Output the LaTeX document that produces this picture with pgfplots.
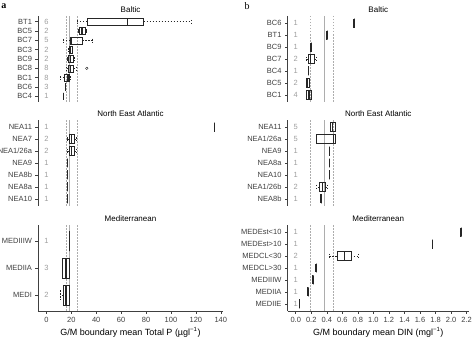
\documentclass[border=0pt]{standalone}
\usepackage{fontspec}
\setmainfont{Liberation Sans}
\newfontfamily\seriffam{Liberation Serif}
\usepackage{pgfplots}
\pgfplotsset{compat=1.18}
\usepgfplotslibrary{statistics}
\definecolor{axgray}{gray}{0.25}
\definecolor{cntgray}{gray}{0.62}
\definecolor{refgray}{gray}{0.68}

\pgfplotsset{
  every axis title/.style={at={(0.5,1)}, anchor=base, yshift=3.8pt},
  panel/.style={
    scale only axis, height=86pt,
    y dir=reverse, ymin=0.4,
    axis lines*=left,
    tick align=outside, major tick length=2.5pt,
    tick style={axgray, line width=0.5pt},
    axis line style={axgray, line width=0.6pt},
    tick label style={font=\fontsize{7.5}{8}\selectfont, text=axgray},
    /pgf/number format/assume math mode=true,
    title style={font=\fontsize{8}{9}\selectfont},
    boxplot/draw direction=x,
    boxplot/box extend=0.75,
    boxplot/whisker extend=0.35,
    clip=false,
  },
  toppanel/.style={x axis line style={draw=none}, xtick=\empty},
  bottompanel/.style={
    xlabel style={font=\fontsize{9}{10}\selectfont, text=black, yshift=2pt}},
  pa/.style={width=185pt, xmin=-6.75, xmax=141.75, xtick={0,20,40,60,80,100,120,140}},
  pb/.style={width=181.5pt, xmin=-0.106, xmax=2.231,
    xtick={0,0.2,0.4,0.6,0.8,1.0,1.2,1.4,1.6,1.8,2.0,2.2},
    xticklabel style={/pgf/number format/.cd, fixed, fixed zerofill, precision=1}},
}

\newcommand{\bx}[6]{\addplot[draw=black!85, line width=0.5pt,
  boxplot prepared={draw position=#1, lower whisker=#2, lower quartile=#3, median=#4, upper quartile=#5, upper whisker=#6},
  boxplot/every whisker/.style={dash pattern=on 1.5pt off 1.5pt},
  boxplot/every median/.style={line width=1.2pt}] coordinates {};}
\newcommand{\one}[2]{\bx{#1}{#2}{#2}{#2}{#2}{#2}}
\newcommand{\reflines}[4]{%
  \addplot[refgray, dash pattern=on 1.5pt off 1.5pt, line width=0.6pt] coordinates {(#1,0.4) (#1,#4)};
  \addplot[refgray, line width=0.6pt] coordinates {(#2,0.4) (#2,#4)};
  \addplot[refgray, dash pattern=on 1.5pt off 1.5pt, line width=0.6pt] coordinates {(#3,0.4) (#3,#4)};}
\pgfplotsset{counts/.style={draw=none, mark=none, nodes near coords, point meta=explicit symbolic,
  nodes near coords style={anchor=center, text=cntgray, font=\fontsize{7.5}{8}\selectfont}}}

\begin{document}
\begin{tikzpicture}
\useasboundingbox (0,0) rectangle (474pt,338pt);
\node[font=\seriffam\bfseries\fontsize{10}{10}\selectfont] at (4pt,332pt) {a};
\node[font=\seriffam\fontsize{10}{10}\selectfont] at (247pt,332pt) {b};

% ---------------- a: Baltic
\begin{axis}[panel, pa, toppanel, at={(38pt,236pt)}, anchor=south west, title=Baltic, ymax=9.6,
  ytick={1,2,3,4,5,6,7,8,9}, yticklabels={BT1,BC5,BC7,BC3,BC9,BC8,BC1,BC6,BC4}]
\reflines{16}{18.7}{24.5}{9.6}
\bx{1}{24.9}{32.6}{65}{78}{116}
\bx{2}{25.5}{26.3}{28.6}{31.5}{32.2}
\bx{3}{13.4}{19.3}{19.8}{28.6}{37}
\bx{4}{17.9}{18.2}{19.5}{20.8}{21.1}
\bx{5}{16.8}{17.8}{19.5}{21.6}{22.4}
\bx{6}{15.8}{17.4}{19.5}{21.9}{23.8}
\addplot[only marks, mark=o, mark size=1.3pt, black!85] coordinates {(32.4,6)};
\bx{7}{11.2}{14.2}{17.4}{18.7}{18.9}
\bx{8}{15}{15.1}{15.2}{15.3}{15.4}
\one{9}{13.9}
\addplot[counts] table[x=x, y=y, meta=n, row sep=\\] {x y n\\ 0 1 6\\ 0 2 2\\ 0 3 5\\ 0 4 2\\ 0 5 2\\ 0 6 8\\ 0 7 8\\ 0 8 3\\ 0 9 1\\};
\end{axis}

% ---------------- a: NEA
\begin{axis}[panel, pa, toppanel, at={(38pt,132pt)}, anchor=south west, title=North East Atlantic, ymax=7.6,
  ytick={1,2,3,4,5,6,7}, yticklabels={NEA11,NEA7,NEA1/26a,NEA9,NEA8b,NEA8a,NEA10}]
\reflines{16}{18.7}{24.5}{7.6}
\one{1}{135}
\bx{2}{16.5}{18}{20.3}{22.5}{24}
\bx{3}{16.5}{18}{20.3}{22.5}{24}
\one{4}{16.8}
\one{5}{16.8}
\one{6}{16.8}
\one{7}{16.8}
\addplot[counts] table[x=x, y=y, meta=n, row sep=\\] {x y n\\ 0 1 1\\ 0 2 2\\ 0 3 2\\ 0 4 1\\ 0 5 1\\ 0 6 1\\ 0 7 1\\};
\end{axis}

% ---------------- a: Mediterranean
\begin{axis}[panel, pa, bottompanel, at={(38pt,27pt)}, anchor=south west, title=Mediterranean, ymax=3.6,
  ytick={1,2,3}, yticklabels={MEDIIIW,MEDIIA,MEDI},
  xlabel={G/M boundary mean Total P (µgl\textsuperscript{−1})}]
\reflines{16}{18.7}{24.5}{3.6}
\one{1}{18.7}
\bx{2}{12.6}{12.8}{15.8}{18.5}{18.7}
\bx{3}{11.2}{13.4}{15.8}{18.5}{18.7}
\addplot[counts] table[x=x, y=y, meta=n, row sep=\\] {x y n\\ 0 1 1\\ 0 2 3\\ 0 3 2\\};
\end{axis}

% ---------------- b: Baltic
\begin{axis}[panel, pb, toppanel, at={(287.5pt,236pt)}, anchor=south west, title=Baltic, ymax=7.6,
  ytick={1,2,3,4,5,6,7}, yticklabels={BC6,BT1,BC9,BC7,BC4,BC5,BC1}]
\reflines{0.19}{0.37}{0.485}{7.6}
\one{1}{0.75}
\one{2}{0.40}
\one{3}{0.197}
\bx{4}{0.13}{0.155}{0.19}{0.24}{0.26}
\one{5}{0.163}
\bx{6}{0.137}{0.137}{0.15}{0.17}{0.17}
\bx{7}{0.137}{0.137}{0.17}{0.206}{0.206}
\addplot[counts] table[x=x, y=y, meta=n, row sep=\\] {x y n\\ 0 1 1\\ 0 2 1\\ 0 3 1\\ 0 4 2\\ 0 5 1\\ 0 6 2\\ 0 7 4\\};
\end{axis}

% ---------------- b: NEA
\begin{axis}[panel, pb, toppanel, at={(287.5pt,132pt)}, anchor=south west, title=North East Atlantic, ymax=7.6,
  ytick={1,2,3,4,5,6,7}, yticklabels={NEA11,NEA1/26a,NEA9,NEA8a,NEA10,NEA1/26b,NEA8b}]
\reflines{0.19}{0.37}{0.485}{7.6}
\bx{1}{0.44}{0.44}{0.47}{0.506}{0.506}
\bx{2}{0.266}{0.266}{0.49}{0.506}{0.506}
\one{3}{0.433}
\one{4}{0.433}
\one{5}{0.433}
\bx{6}{0.27}{0.305}{0.34}{0.378}{0.41}
\one{7}{0.326}
\addplot[counts] table[x=x, y=y, meta=n, row sep=\\] {x y n\\ 0 1 5\\ 0 2 5\\ 0 3 1\\ 0 4 1\\ 0 5 1\\ 0 6 2\\ 0 7 1\\};
\end{axis}

% ---------------- b: Mediterranean
\begin{axis}[panel, pb, bottompanel, at={(287.5pt,27pt)}, anchor=south west, title=Mediterranean, ymax=7.6,
  ytick={1,2,3,4,5,6,7}, yticklabels={MEDEst<10,MEDEst>10,MEDCL<30,MEDCL>30,MEDIIIW,MEDIIA,MEDIIE},
  xlabel={G/M boundary mean DIN (mgl\textsuperscript{−1})}]
\reflines{0.19}{0.37}{0.485}{7.6}
\one{1}{2.125}
\one{2}{1.76}
\bx{3}{0.43}{0.53}{0.63}{0.71}{0.80}
\one{4}{0.26}
\one{5}{0.22}
\one{6}{0.155}
\one{7}{0.047}
\addplot[counts] table[x=x, y=y, meta=n, row sep=\\] {x y n\\ 0 1 1\\ 0 2 1\\ 0 3 2\\ 0 4 1\\ 0 5 1\\ 0 6 1\\ 0 7 1\\};
\end{axis}
\end{tikzpicture}
\end{document}
